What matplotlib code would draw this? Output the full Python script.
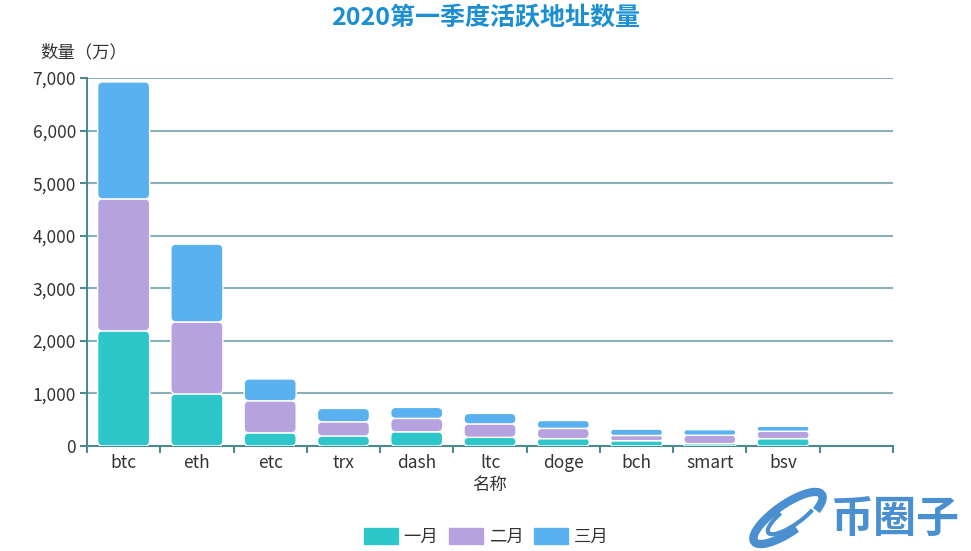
import matplotlib.pyplot as plt
from matplotlib.patches import FancyBboxPatch, Patch, Arc
from matplotlib.ticker import FuncFormatter

plt.rcParams['font.family'] = ['Noto Sans CJK SC', 'DejaVu Sans']

names = ["btc", "eth", "etc", "trx", "dash", "ltc", "doge", "bch", "smart", "bsv"]
jan = [2190, 990, 250, 190, 270, 165, 140, 100, 45, 140]
feb = [2510, 1370, 610, 270, 255, 255, 195, 100, 160, 140]
mar = [2225, 1480, 415, 255, 210, 200, 150, 120, 105, 95]
series = [("一月", jan, "#2ec7c9"), ("二月", feb, "#b6a2de"), ("三月", mar, "#5ab1ef")]

W, H = 971, 551
fig = plt.figure(figsize=(W / 100, H / 100), dpi=100)
left, right, top, bottom = 87, 893, 78, 446
ax = fig.add_axes([left / W, 1 - bottom / H, (right - left) / W, (bottom - top) / H])

nslots = 11
ax.set_xlim(-0.5, nslots - 0.5)
ax.set_ylim(0, 7000)

# pixel scale for rounded corners
px_x = nslots / (right - left)
px_y = 7000 / (bottom - top)
r = 5 * px_x
aspect = px_y / px_x
bw = 0.71

base = [0] * len(names)
for label, vals, color in series:
    for i, v in enumerate(vals):
        rr = min(r, (v / aspect) / 2)
        p = FancyBboxPatch((i - bw / 2, base[i]), bw, v,
                           boxstyle=f"round,pad=0,rounding_size={rr}",
                           mutation_aspect=aspect,
                           facecolor=color, edgecolor="white", linewidth=1, zorder=3)
        ax.add_patch(p)
        base[i] += v

grid_c = "#8ab1b5"
axis_c = "#4d8a90"
ax.set_yticks(range(0, 7001, 1000))
ax.yaxis.set_major_formatter(FuncFormatter(lambda v, _: f"{int(v):,}"))
ax.grid(axis="y", color=grid_c, linewidth=1.5, zorder=0)
ax.set_xticks([i - 0.5 for i in range(nslots + 1)])
ax.set_xticklabels([])
ax.set_xticks(range(len(names)), minor=True)
ax.set_xticklabels(names, minor=True)
ax.tick_params(axis="x", which="minor", length=0, labelsize=12.5, pad=6, labelcolor="#333333")
ax.tick_params(axis="x", which="major", length=5, color=axis_c, width=1.5)
ax.tick_params(axis="y", length=5, color=axis_c, width=1.5, labelsize=12.5, labelcolor="#333333", pad=3)

for s in ["top", "right"]:
    ax.spines[s].set_visible(False)
for s in ["left", "bottom"]:
    ax.spines[s].set_color(axis_c)
    ax.spines[s].set_linewidth(1.5)

fig.text(486 / W, 1 - 17 / H, "2020第一季度活跃地址数量", ha="center", va="center",
         fontsize=18, fontweight="bold", color="#1b8fd2")
fig.text(84 / W, 1 - 52 / H, "数量（万）", ha="center", va="center", fontsize=12.5, color="#333333")
fig.text(490 / W, 1 - 485 / H, "名称", ha="center", va="center", fontsize=12.5, color="#333333")

handles = [Patch(facecolor=c, edgecolor=c, label=l) for l, _, c in series]
fig.legend(handles=handles, loc="center", bbox_to_anchor=(486 / W, 1 - 537 / H), ncol=3,
           frameon=False, fontsize=12.5, handlelength=2.0, handleheight=1.0,
           handletextpad=0.3, columnspacing=0.6, labelcolor="#333333")

# watermark
wm = "#4a8fd0"
fig.text(895 / W, 1 - 519 / H, "币圈子", ha="center", va="center", fontsize=31,
         fontweight="bold", color=wm)
fig.add_artist(Arc((788 / W, 1 - 518 / H), 36 / W, 62 / H, angle=-35, theta1=60, theta2=330,
                   transform=fig.transFigure, color=wm, linewidth=6))
fig.add_artist(Arc((793 / W, 1 - 515 / H), 24 / W, 46 / H, angle=-35, theta1=200, theta2=420,
                   transform=fig.transFigure, color=wm, linewidth=3))

fig.savefig("out.png", dpi=100)
